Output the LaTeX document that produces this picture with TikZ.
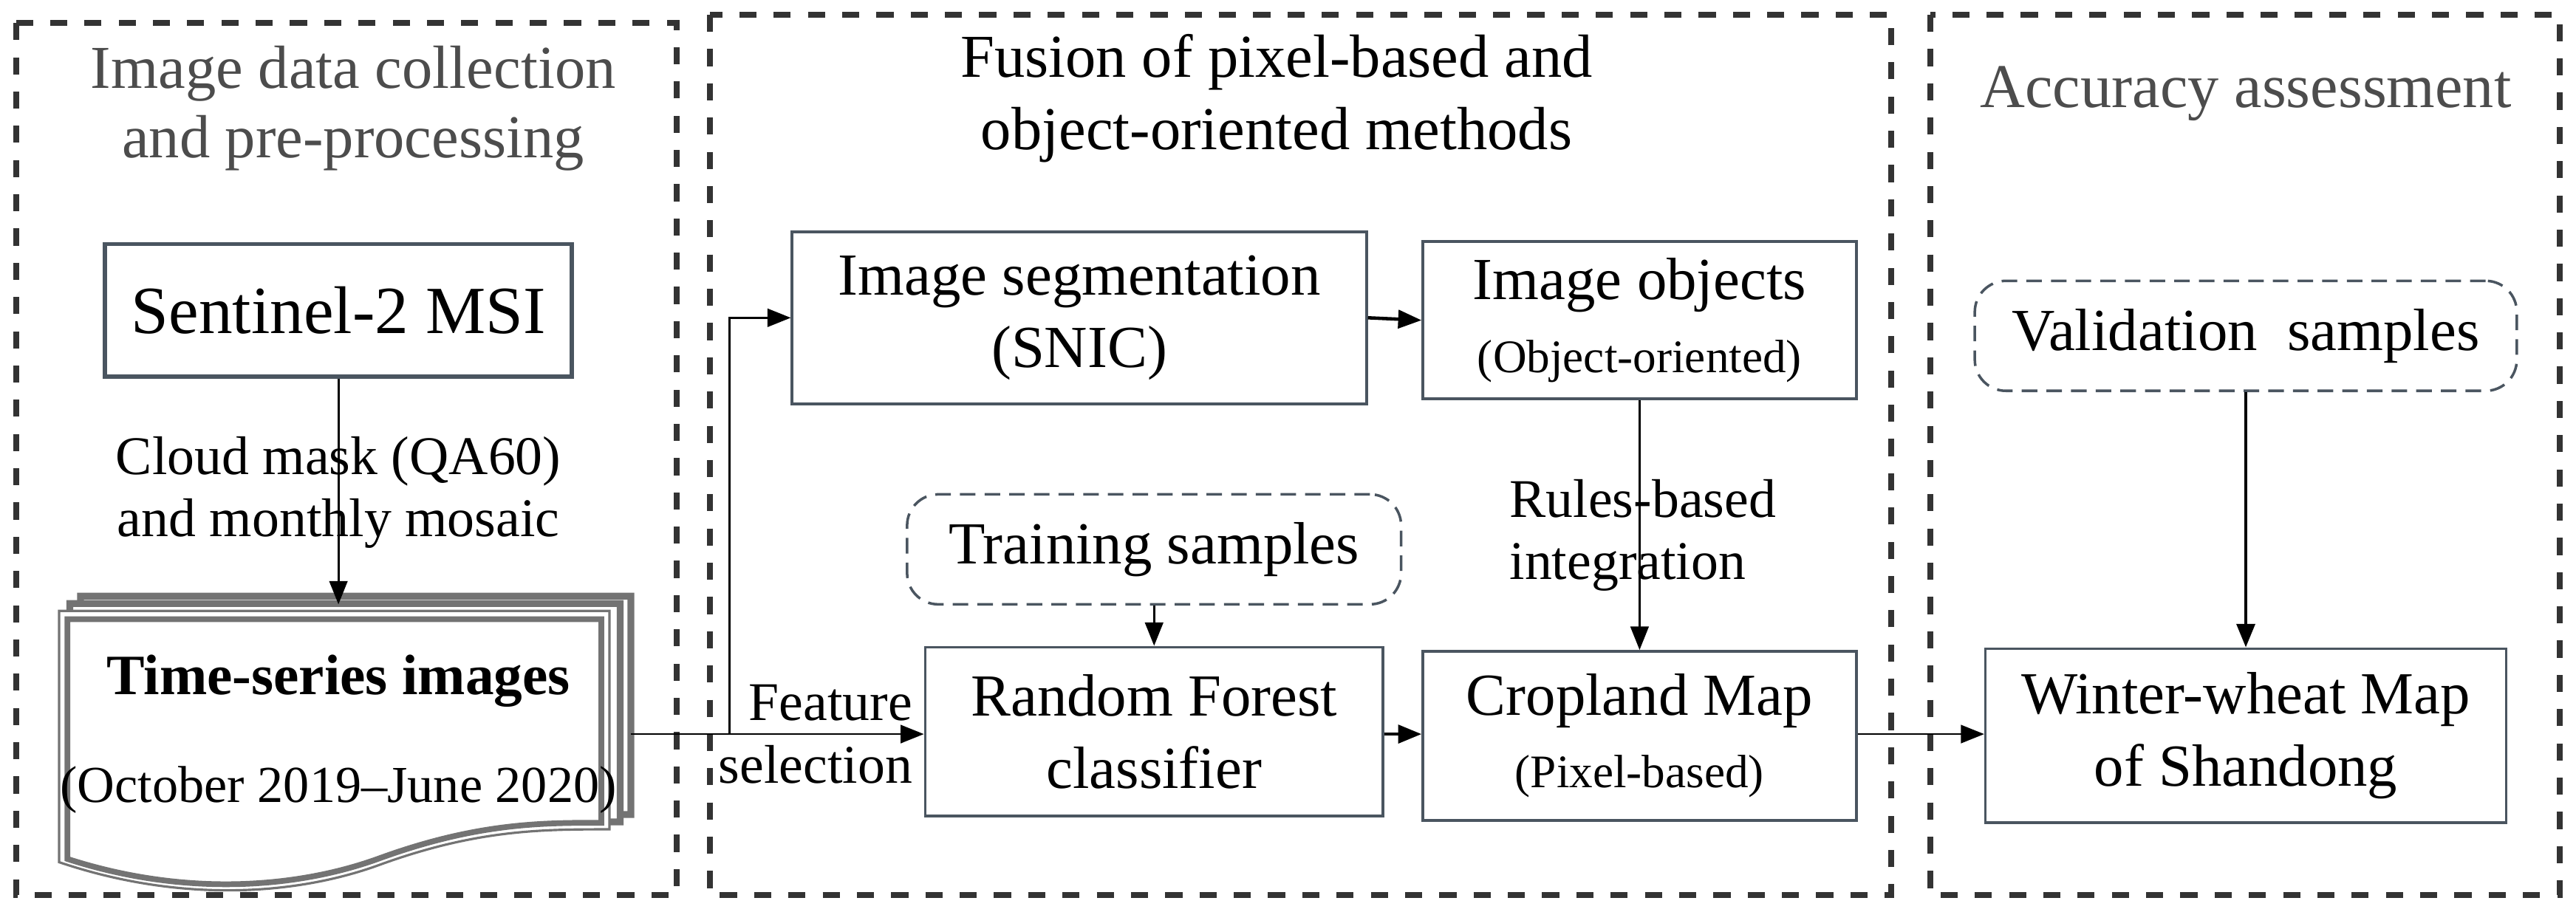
\documentclass[tikz,border=0pt]{standalone}
\usepackage{fontspec}
\setmainfont{Liberation Serif}
\usetikzlibrary{arrows.meta}
\definecolor{bc}{HTML}{4A5560}
\begin{document}
\begin{tikzpicture}[x=0.02224cm,y=-0.02224cm,
 panel/.style={draw=black!80,line width=2.2pt,dash pattern=on 6.6pt off 6.6pt},
 box/.style={draw=bc,line width=1pt,fill=white,inner sep=0pt,align=center,font=\fontsize{23}{28}\selectfont},
 dbox/.style={box,rounded corners=12pt,dash pattern=on 6pt off 3.5pt},
 arr/.style={-{Triangle[length=9pt,width=7pt]},line width=0.8pt},
 lbl/.style={align=center,font=\fontsize{21}{24}\selectfont}]
\path[use as bounding box] (0,0) rectangle (1568,555);
% panels
\draw[panel] (10,14) rectangle (412,545);
\draw[panel] (432,9) rectangle (1151,545);
\draw[panel] (1175,9) rectangle (1558,545);
\node[lbl,text=black!70,font=\fontsize{23.5}{27}\selectfont] (t1) at (215,66) {Image data collection\\and pre-processing};
\node[lbl,font=\fontsize{23.5}{28}\selectfont] (t2) at (777,60) {Fusion of pixel-based and\\object-oriented methods};
\node[lbl,text=black!70,font=\fontsize{24}{28}\selectfont] (t3) at (1367,57) {Accuracy assessment};
% left column
\node[box,line width=1.6pt,minimum width=6.32cm,minimum height=1.80cm,font=\fontsize{26}{30}\selectfont] (s2) at (206,189) {Sentinel-2 MSI};
\node[lbl] (cm) at (206,300) {Cloud mask (QA60)\\and monthly mosaic};
% document stack
\foreach \dx/\dy/\w in {13/-9/2.6pt,6.5/-4.5/2.6pt,0/0/0.9pt}{
\draw[draw=black!55,line width=\w,fill=white] (36+\dx,372+\dy) -- (36+\dx,525+\dy) .. controls (110+\dx,550+\dy) and (180+\dx,545+\dy) .. (230+\dx,527+\dy) .. controls (290+\dx,505+\dy) and (330+\dx,505+\dy) .. (371+\dx,505+\dy) -- (371+\dx,372+\dy) -- cycle;}
\draw[draw=black!55,line width=2.2pt] (41,377) -- (41,523) .. controls (112,546) and (180,541) .. (230,523) .. controls (290,501) and (330,501) .. (366,501) -- (366,377) -- cycle;
\node[inner sep=0pt,align=center] (ts) at (206,447) {{\fontsize{22}{26}\selectfont\bfseries Time-series images}\\[22pt]{\fontsize{20}{24}\selectfont (October 2019–June 2020)}};
\coordinate (tsr) at (384,447);
\coordinate (tst) at (206,368);
% middle
\node[box,minimum width=7.78cm,minimum height=2.33cm] (seg) at (657,193.5) {Image segmentation\\(SNIC)};
\node[box,minimum width=5.87cm,minimum height=2.13cm] (obj) at (998,195) {Image objects\\{\fontsize{18}{22}\selectfont (Object-oriented)}};
\node[dbox,minimum width=6.69cm,minimum height=1.49cm] (tr) at (702.5,334.5) {Training samples};
\node[box,minimum width=6.2cm,minimum height=2.29cm] (rf) at (702.5,445.5) {Random Forest\\classifier};
\node[box,minimum width=5.87cm,minimum height=2.29cm] (crop) at (998,448) {Cropland Map\\{\fontsize{18}{22}\selectfont (Pixel-based)}};
\node[dbox,minimum width=7.34cm,minimum height=1.49cm] (val) at (1367,204.5) {Validation\ \ samples};
\node[box,minimum width=7.05cm,minimum height=2.36cm] (ww) at (1367,448) {Winter-wheat Map\\of Shandong};
\node[lbl,align=right,anchor=east] (fs) at (561,447) {Feature\\selection};
\node[lbl,align=left] (rb) at (1000,326) {Rules-based\\integration};
% connectors
\draw[arr] (s2.south) -- (tst);
\coordinate (br) at (444,447);
\draw[arr] (tsr) -- (rf.west |- tsr);
\draw[arr] (br) |- (seg.west);
\draw[arr,line width=1.3pt] (seg.east) -- (obj.west);
\draw[arr] (obj.south) -- (crop.north);
\draw[arr] (tr.south) -- (tr.south |- rf.north);
\draw[arr,line width=1.3pt] (rf.east |- tsr) -- (crop.west |- tsr);
\draw[arr] (crop.east |- tsr) -- (ww.west |- tsr);
\draw[arr,line width=1.3pt] (val.south) -- (ww.north);
\end{tikzpicture}
\end{document}
